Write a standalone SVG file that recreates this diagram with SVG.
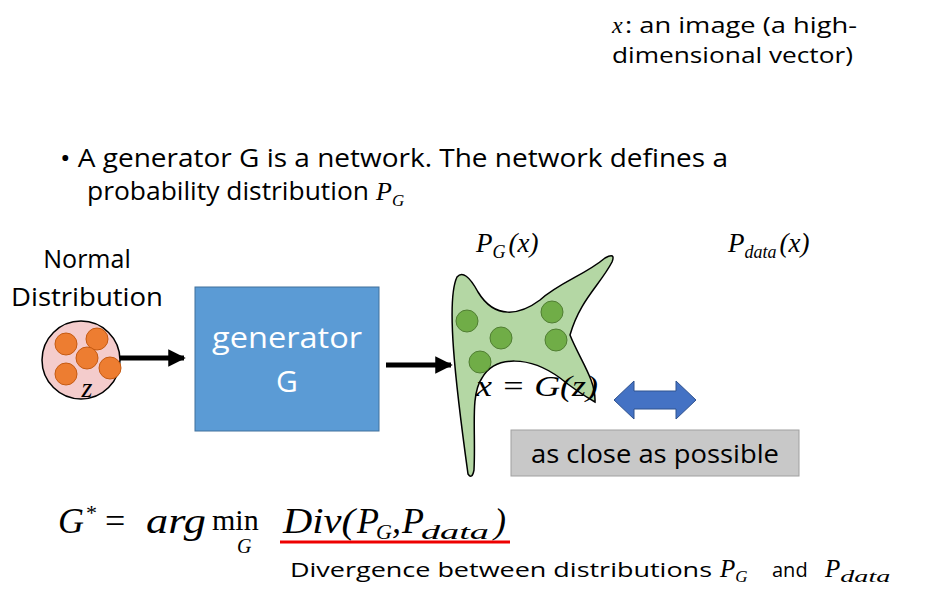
<svg xmlns="http://www.w3.org/2000/svg" width="933" height="615" viewBox="0 0 933 615">
<style>
.s{font-family:"Open Sans","Liberation Sans",sans-serif;fill:#000}
.m{font-family:"Liberation Serif",serif;font-style:italic;fill:#000}
.n{font-family:"Liberation Serif",serif;font-style:normal;fill:#000}
.dot{fill:#ed7d31;stroke:#c55a11;stroke-width:1}
.gd{fill:#70ad47;stroke:#507e32;stroke-width:1}
</style>
<defs>
<marker id="ah" viewBox="0 0 10 10" refX="9" refY="5" markerWidth="3.5" markerHeight="3.5" orient="auto"><path d="M0,0L10,5L0,10z" fill="#000"/></marker>
</defs>
<rect width="933" height="615" fill="#fff"/>
<text class="m" x="612" y="33" font-size="24">x</text>
<text class="s" x="625" y="33" font-size="22" textLength="232" lengthAdjust="spacingAndGlyphs">: an image (a high-</text>
<text class="s" x="612" y="63" font-size="22" textLength="241" lengthAdjust="spacingAndGlyphs">dimensional vector)</text>
<text class="s" x="60" y="167" font-size="25" textLength="668" lengthAdjust="spacingAndGlyphs">• A generator G is a network. The network defines a</text>
<text class="s" x="87" y="200" font-size="25" textLength="282" lengthAdjust="spacingAndGlyphs">probability distribution</text>
<text class="m" x="376" y="200" font-size="26">P<tspan font-size="17" dy="6">G</tspan></text>
<g id="normal">
<text class="s" x="87" y="268" font-size="25" text-anchor="middle">Normal</text>
<text class="s" x="87" y="306" font-size="25" text-anchor="middle" textLength="152" lengthAdjust="spacingAndGlyphs">Distribution</text>
<circle cx="81" cy="360" r="39" fill="#f4cccc" stroke="#000" stroke-width="1.5"/>
<circle class="dot" cx="66" cy="344" r="11"/><circle class="dot" cx="97" cy="339" r="11"/>
<circle class="dot" cx="87" cy="358" r="11"/><circle class="dot" cx="66" cy="374" r="11"/>
<circle class="dot" cx="110" cy="368" r="11"/>
<text class="m" x="87" y="397" font-size="28" text-anchor="middle">z</text>
</g>
<g id="generator">
<rect x="195" y="287" width="184" height="144" fill="#5b9bd5" stroke="#41719c"/>
<text x="287" y="348" font-size="30" fill="#fff" text-anchor="middle" textLength="150" lengthAdjust="spacingAndGlyphs" font-family="Open Sans,Liberation Sans,sans-serif">generator</text>
<text x="287" y="392" font-size="30" fill="#fff" text-anchor="middle" font-family="Open Sans,Liberation Sans,sans-serif">G</text>
</g>
<g id="pg">
<path d="M457,277 C446,300 455,380 468,474 Q472,480 474,470 C476,430 470,395 482,378 C495,355 530,356 560,378 C575,390 588,398 595,402 C596,380 580,360 570,335 C580,300 600,285 612,262 Q616,252 605,258 C585,275 560,282 540,300 C520,315 495,320 478,292 Q465,268 457,277 Z" fill="#b4d7a4" stroke="#000" stroke-width="1.5"/>
<circle class="gd" cx="467" cy="321" r="11"/><circle class="gd" cx="501" cy="338" r="11"/>
<circle class="gd" cx="552" cy="312" r="11"/><circle class="gd" cx="556" cy="340" r="11"/>
<circle class="gd" cx="480" cy="362" r="11"/>
<text class="m" x="476" y="252" font-size="27">P<tspan font-size="18" dy="6">G</tspan><tspan dy="-6" dx="3">(x)</tspan></text>
<text class="m" x="476" y="396" font-size="29" textLength="122" lengthAdjust="spacingAndGlyphs">x = G(z)</text>
</g>
<text class="m" x="728" y="252" font-size="27">P<tspan font-size="18" dy="6">data</tspan><tspan dy="-6" dx="3">(x)</tspan></text>
<g id="close">
<path d="M614,400 L634,381 L634,391 L676,391 L676,381 L696,400 L676,419 L676,409 L634,409 L634,419 Z" fill="#4472c4" stroke="#2f528f"/>
<rect x="511" y="430" width="288" height="46" fill="#c8c8c8" stroke="#a0a0a0"/>
<text class="s" x="655" y="463" font-size="25" text-anchor="middle" textLength="248" lengthAdjust="spacingAndGlyphs">as close as possible</text>
</g>
<g id="connectors" stroke="#000" stroke-width="5" fill="none">
<line x1="120" y1="358" x2="184" y2="358" marker-end="url(#ah)"/>
<line x1="386" y1="365" x2="451" y2="365" marker-end="url(#ah)"/>
</g>
<g font-size="36">
<text class="m" x="58" y="533">G</text>
<text class="n" x="86" y="520" font-size="22">*</text>
<text class="n" x="105" y="533">=</text>
<text class="m" x="146" y="533" textLength="60" lengthAdjust="spacingAndGlyphs">arg</text>
<text class="n" x="212" y="530" font-size="30">min</text>
<text class="m" x="237" y="553" font-size="20">G</text>
<text class="m" x="283" y="533" textLength="72" lengthAdjust="spacingAndGlyphs">Div(</text>
<text class="m" x="357" y="533">P</text>
<text class="m" x="376" y="539" font-size="22">G</text>
<text class="m" x="392" y="533">,</text>
<text class="m" x="402" y="533">P</text>
<text class="m" x="421" y="539" font-size="22" textLength="68" lengthAdjust="spacingAndGlyphs">data</text>
<text class="m" x="494" y="533">)</text>
</g>
<line x1="280" y1="542" x2="510" y2="542" stroke="#e00" stroke-width="3"/>
<text class="s" x="290" y="577" font-size="20" textLength="422" lengthAdjust="spacingAndGlyphs">Divergence between distributions</text>
<text class="m" x="720" y="577" font-size="25">P<tspan font-size="17" dy="5">G</tspan></text>
<text class="s" x="772" y="577" font-size="20">and</text>
<text class="m" x="825" y="577" font-size="25">P<tspan font-size="17" dy="5" textLength="50" lengthAdjust="spacingAndGlyphs">data</tspan></text>
</svg>
